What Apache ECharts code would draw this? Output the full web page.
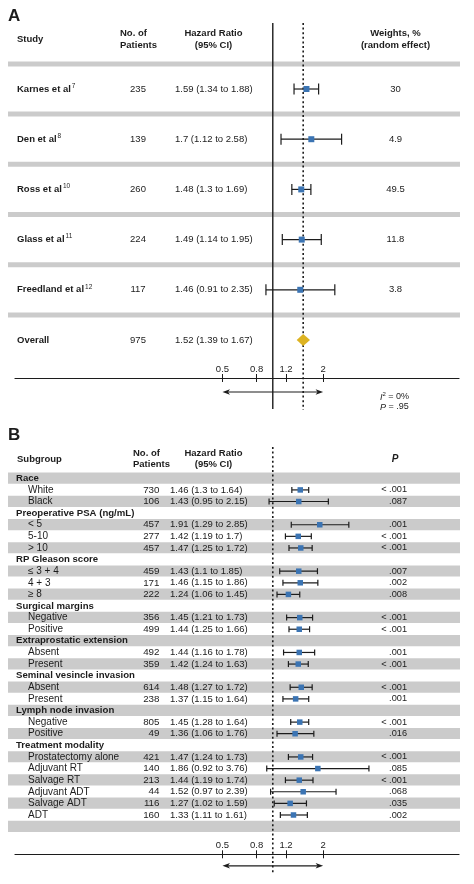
<!DOCTYPE html>
<html>
<head>
<meta charset="utf-8">
<script src="https://cdn.jsdelivr.net/npm/echarts@6/dist/echarts.min.js"></script>
<style>
  html, body { margin: 0; padding: 0; background: #fff; }
  #main { width: 474px; height: 884px; }
</style>
</head>
<body>
<div id="main"></div>
<script>
// Panel A - hazard ratio by study
const studies = ['Karnes et al', 'Den et al', 'Ross et al', 'Glass et al', 'Freedland et al']
const studyRefs = ['7', '8', '10', '11', '12']
const patientsA = [235, 139, 260, 224, 117]
const hrA = [1.59, 1.7, 1.48, 1.49, 1.46]
const lowA = [1.34, 1.12, 1.3, 1.14, 0.91]
const highA = [1.88, 2.58, 1.69, 1.95, 2.35]
const weightsA = ['30', '4.9', '49.5', '11.8', '3.8']
const overallPatients = 975
const overallHr = [1.52, 1.39, 1.67] // estimate, low, high
const heterogeneity = ['0%', '.95'] // I2, P

// Panel B - subgroup analysis
const subgroups = ['Race', 'White', 'Black',
  'Preoperative PSA (ng/mL)', '< 5', '5-10', '> 10',
  'RP Gleason score', '\u2264 3 + 4', '4 + 3', '\u2265 8',
  'Surgical margins', 'Negative', 'Positive',
  'Extraprostatic extension', 'Absent', 'Present',
  'Seminal vesincle invasion', 'Absent', 'Present',
  'Lymph node invasion', 'Negative', 'Positive',
  'Treatment modality', 'Prostatectomy alone', 'Adjuvant RT', 'Salvage RT', 'Adjuvant ADT', 'Salvage ADT', 'ADT',
  '']
const patientsB = [null, 730, 106, null, 457, 277, 457, null, 459, 171, 222, null, 356, 499, null, 492, 359,
  null, 614, 238, null, 805, 49, null, 421, 140, 213, 44, 116, 160, null]
const hrB = [null, 1.46, 1.43, null, 1.91, 1.42, 1.47, null, 1.43, 1.46, 1.24, null, 1.45, 1.44, null, 1.44, 1.42,
  null, 1.48, 1.37, null, 1.45, 1.36, null, 1.47, 1.86, 1.44, 1.52, 1.27, 1.33, null]
const lowB = [null, 1.3, 0.95, null, 1.29, 1.19, 1.25, null, 1.1, 1.15, 1.06, null, 1.21, 1.25, null, 1.16, 1.24,
  null, 1.27, 1.15, null, 1.28, 1.06, null, 1.24, 0.92, 1.19, 0.97, 1.02, 1.11, null]
const highB = [null, 1.64, 2.15, null, 2.85, 1.7, 1.72, null, 1.85, 1.86, 1.45, null, 1.73, 1.66, null, 1.78, 1.63,
  null, 1.72, 1.64, null, 1.64, 1.76, null, 1.73, 3.76, 1.74, 2.39, 1.59, 1.61, null]
const pB = [null, '< .001', '.087', null, '.001', '< .001', '< .001', null, '.007', '.002', '.008', null, '< .001', '< .001',
  null, '.001', '< .001', null, '< .001', '.001', null, '< .001', '.016', null, '< .001', '.085', '< .001', '.068',
  '.035', '.002', null]

const tickValues = [0.5, 0.8, 1.2, 2]
const tickLabels = ['0.5', '0.8', '1.2', '2']

// look
const FONT = '"Liberation Sans", Arial, sans-serif'
const INK = '#1c1c1c'
const BAND = '#cbcbcb'
const BLUE = '#3b74b3'
const GOLD = '#ddb322'
const X_MIN = 0.0287
const X_MAX = 13.0

const chart = echarts.init(document.getElementById('main'))

function hrText (hr, lo, hi) {
  return hr + ' (' + lo + ' to ' + hi + ')'
}

function txt (text, x, y, o) {
  return {
    type: 'text',
    x: x,
    y: y,
    style: Object.assign({
      text: text, fill: INK, fontFamily: FONT, fontSize: 9.5,
      align: 'left', verticalAlign: 'middle'
    }, o || {})
  }
}

function rowY (api, r) {
  return api.coord([1, r])[1]
}

// grey separators between the rows of panel A
function renderBandA (params, api) {
  const y = rowY(api, api.value(1))
  return { type: 'rect', shape: { x: 8, y: y - 2.5, width: 452, height: 5 }, style: { fill: BAND } }
}

function renderTableA (params, api) {
  const i = params.dataIndex
  const y = rowY(api, api.value(1))
  const bold = { fontWeight: 'bold', fill: INK, fontFamily: FONT, fontSize: 9.5 }
  if (i < studies.length) {
    return {
      type: 'group',
      children: [
        {
          type: 'text', x: 17, y: y,
          style: {
            text: '{n|' + studies[i] + '}{s|' + studyRefs[i] + '}',
            verticalAlign: 'middle',
            rich: {
              n: bold,
              s: { fill: INK, fontFamily: FONT, fontSize: 6.5, padding: [0, 0, 6, 1] }
            }
          }
        },
        txt(String(patientsA[i]), 138, y, { align: 'center' }),
        txt(hrText(hrA[i], lowA[i], highA[i]), 175, y),
        txt(weightsA[i], 395.5, y, { align: 'center' })
      ]
    }
  }
  return {
    type: 'group',
    children: [
      txt('Overall', 17, y, { fontWeight: 'bold' }),
      txt(String(overallPatients), 138, y, { align: 'center' }),
      txt(hrText(overallHr[0], overallHr[1], overallHr[2]), 175, y)
    ]
  }
}

function renderTableB (params, api) {
  const i = params.dataIndex
  const r = api.value(1)
  const y = rowY(api, r)
  const h = api.size([0, 1])[1]
  const kids = []
  if (i % 2 === 0) {
    kids.push({ type: 'rect', shape: { x: 8, y: y - h / 2, width: 452, height: h - 0.4 }, style: { fill: BAND } })
  }
  if (patientsB[i] == null) {
    kids.push(txt(subgroups[i], 16, y, { fontWeight: 'bold', fontSize: 9.6 }))
  } else {
    kids.push(txt(subgroups[i], 28, y, { fontSize: 10 }))
    kids.push(txt(String(patientsB[i]), 159.5, y, { align: 'right', fontSize: 9.8 }))
    kids.push(txt(hrText(hrB[i], lowB[i], highB[i]), 170, y, { fontSize: 9.5 }))
    kids.push(txt(pB[i], 407, y, { align: 'right', fontSize: 9.2 }))
  }
  return { type: 'group', children: kids }
}

function renderCI (capH, sq) {
  return function (params, api) {
    const r = api.value(1)
    const c = api.coord([api.value(0), r])
    const lo = api.coord([api.value(2), r])[0]
    const hi = api.coord([api.value(3), r])[0]
    const y = c[1]
    const line = { stroke: INK, lineWidth: 1.2 }
    return {
      type: 'group',
      children: [
        { type: 'line', shape: { x1: lo, y1: y, x2: hi, y2: y }, style: line },
        { type: 'line', shape: { x1: lo, y1: y - capH / 2, x2: lo, y2: y + capH / 2 }, style: line },
        { type: 'line', shape: { x1: hi, y1: y - capH / 2, x2: hi, y2: y + capH / 2 }, style: line },
        { type: 'rect', shape: { x: c[0] - sq / 2, y: y - sq / 2, width: sq, height: sq }, style: { fill: BLUE } }
      ]
    }
  }
}

function renderDiamond (params, api) {
  const r = api.value(1)
  const c = api.coord([api.value(0), r])
  const lo = api.coord([api.value(2), r])[0]
  const hi = api.coord([api.value(3), r])[0]
  const y = c[1]
  return {
    type: 'polygon',
    shape: { points: [[lo, y], [c[0], y - 6], [hi, y], [c[0], y + 6]] },
    style: { fill: GOLD }
  }
}

function renderRefLine (extra, dotted) {
  return function (params, api) {
    const cs = params.coordSys
    const x = api.coord([api.value(0), 0])[0]
    return {
      type: 'line',
      shape: { x1: x, y1: cs.y, x2: x, y2: cs.y + cs.height + extra },
      style: dotted ? { stroke: INK, lineWidth: 1.6, lineDash: [2, 2.6] } : { stroke: INK, lineWidth: 1.4 }
    }
  }
}

function renderArrow (drop) {
  return function (params, api) {
    const cs = params.coordSys
    const y = cs.y + cs.height + drop
    const x1 = api.coord([api.value(0), 0])[0]
    const x2 = api.coord([api.value(1), 0])[0]
    return {
      type: 'group',
      children: [
        { type: 'line', shape: { x1: x1 + 4, y1: y, x2: x2 - 4, y2: y }, style: { stroke: INK, lineWidth: 1.2 } },
        { type: 'polygon', shape: { points: [[x1, y], [x1 + 7.5, y - 2.8], [x1 + 5.5, y], [x1 + 7.5, y + 2.8]] }, style: { fill: INK } },
        { type: 'polygon', shape: { points: [[x2, y], [x2 - 7.5, y - 2.8], [x2 - 5.5, y], [x2 - 7.5, y + 2.8]] }, style: { fill: INK } }
      ]
    }
  }
}

function tickLabel (v) {
  let best = 0
  tickValues.forEach((t, k) => {
    if (Math.abs(t - v) < Math.abs(tickValues[best] - v)) best = k
  })
  return tickLabels[best]
}

function makeXAxis (grid, main) {
  return {
    type: 'log',
    gridIndex: grid,
    position: 'bottom',
    min: X_MIN,
    max: X_MAX,
    axisLine: { show: main, onZero: false, lineStyle: { color: INK, width: 1.2 } },
    axisTick: { show: true, inside: main, length: 4, customValues: tickValues, lineStyle: { color: INK, width: 1 } },
    axisLabel: {
      show: main, inside: true, margin: 4, customValues: tickValues, formatter: tickLabel,
      color: INK, fontFamily: FONT, fontSize: 9.5
    },
    splitLine: { show: false },
    minorTick: { show: false },
    minorSplitLine: { show: false }
  }
}

const custom = (grid, data, renderItem, z) => ({
  type: 'custom',
  xAxisIndex: grid * 2,
  yAxisIndex: grid,
  coordinateSystem: 'cartesian2d',
  clip: false,
  silent: true,
  z: z,
  data: data,
  renderItem: renderItem
})

const bandRowsA = studies.map((s, i) => [1, i - 0.5]).concat([[1, studies.length - 0.5]])
const tableRowsA = studies.map((s, i) => [1, i]).concat([[1, studies.length]])
const ciRowsA = studies.map((s, i) => [hrA[i], i, lowA[i], highA[i]])
const overallRowA = [[overallHr[0], studies.length, overallHr[1], overallHr[2]]]

const tableRowsB = subgroups.map((s, i) => [1, i])
const ciRowsB = []
hrB.forEach((v, i) => {
  if (v != null) ciRowsB.push([v, i, lowB[i], highB[i]])
})

const headBold = { fontWeight: 'bold', fontSize: 9.5 }

const option = {
  animation: false,
  backgroundColor: '#fff',
  textStyle: { fontFamily: FONT },
  grid: [
    { left: 15, right: 15, top: 23, height: 355 },
    { left: 15, right: 15, top: 447, height: 407.3 }
  ],
  xAxis: [makeXAxis(0, true), makeXAxis(0, false), makeXAxis(1, true), makeXAxis(1, false)],
  yAxis: [
    { gridIndex: 0, type: 'value', inverse: true, min: -1.315, max: 5.757, show: false },
    { gridIndex: 1, type: 'value', inverse: true, min: -2.696, max: 32.386, show: false }
  ],
  graphic: [
    txt('A', 8, 16, { fontWeight: 'bold', fontSize: 17 }),
    txt('Study', 17, 39.5, headBold),
    txt('No. of', 120, 33, headBold),
    txt('Patients', 120, 45, headBold),
    txt('Hazard Ratio', 213.5, 33, Object.assign({ align: 'center' }, headBold)),
    txt('(95% CI)', 213.5, 45, Object.assign({ align: 'center' }, headBold)),
    txt('Weights, %', 395.5, 33, Object.assign({ align: 'center' }, headBold)),
    txt('(random effect)', 395.5, 45, Object.assign({ align: 'center' }, headBold)),
    {
      type: 'text', x: 380, y: 397,
      style: {
        text: '{i|I}{s|2}{n| = ' + heterogeneity[0] + '}',
        verticalAlign: 'middle',
        rich: {
          i: { fontStyle: 'italic', fontSize: 9, fontFamily: FONT, fill: INK },
          s: { fontSize: 6, fontFamily: FONT, fill: INK, padding: [0, 0, 5, 0] },
          n: { fontSize: 9, fontFamily: FONT, fill: INK }
        }
      }
    },
    {
      type: 'text', x: 380, y: 407,
      style: {
        text: '{i|P}{n| = ' + heterogeneity[1] + '}',
        verticalAlign: 'middle',
        rich: {
          i: { fontStyle: 'italic', fontSize: 9, fontFamily: FONT, fill: INK },
          n: { fontSize: 9, fontFamily: FONT, fill: INK }
        }
      }
    },
    txt('B', 8, 435, { fontWeight: 'bold', fontSize: 17 }),
    txt('Subgroup', 17, 459, headBold),
    txt('No. of', 133, 453, headBold),
    txt('Patients', 133, 464, headBold),
    txt('Hazard Ratio', 213.5, 453, Object.assign({ align: 'center' }, headBold)),
    txt('(95% CI)', 213.5, 464, Object.assign({ align: 'center' }, headBold)),
    txt('P', 395, 459, { fontWeight: 'bold', fontStyle: 'italic', fontSize: 10, align: 'center' })
  ],
  series: [
    custom(0, bandRowsA, renderBandA, 1),
    custom(0, tableRowsA, renderTableA, 2),
    custom(0, [[1, 0]], renderRefLine(31, false), 3),
    custom(0, [[overallHr[0], 0]], renderRefLine(32, true), 3),
    custom(0, ciRowsA, renderCI(11, 6), 4),
    custom(0, overallRowA, renderDiamond, 4),
    custom(0, [[tickValues[0], tickValues[tickValues.length - 1]]], renderArrow(14), 4),

    custom(1, tableRowsB, renderTableB, 1),
    custom(1, [[1, 0]], renderRefLine(19, true), 3),
    custom(1, ciRowsB, renderCI(6, 5.5), 4),
    custom(1, [[tickValues[0], tickValues[tickValues.length - 1]]], renderArrow(11.5), 4)
  ]
}

chart.setOption(option)
</script>
</body>
</html>
